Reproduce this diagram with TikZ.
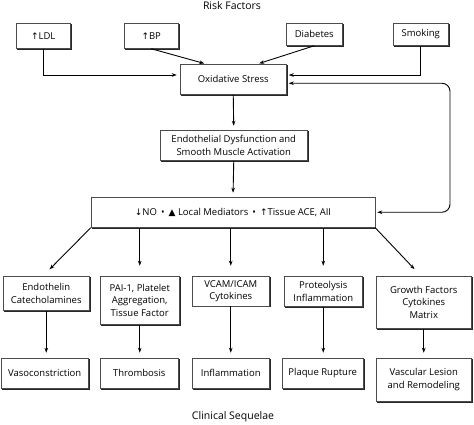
\documentclass[tikz,border=0pt]{standalone}
\usepackage{fontspec}
\setmainfont{Open Sans}
\newfontfamily\symfont{DejaVu Sans}
\usetikzlibrary{arrows.meta, shadows}
\newcommand{\incr}{{\symfont\small ↑}}
\newcommand{\decr}{{\symfont\small ↓}}
\newcommand{\trig}{{\symfont\small ▲}}
\tikzset{
	box/.style = {draw = black!70, line width = 0.5pt, fill = white, align = center, inner sep = 1pt,
			drop shadow = {shadow xshift = 1.4pt, shadow yshift = -1.4pt, fill = black!85, opacity = 1}},
	arr/.style = {line width = 0.9pt, -{Stealth[length = 5pt, width = 3.6pt]}},
	title/.style = {font = \fontsize{10.5}{13}\selectfont},
}

\begin{document}
\begin{tikzpicture}[x = 1pt, y = -1pt, font = \fontsize{9.5}{12.5}\selectfont]
		\useasboundingbox (0,0) rectangle (474,425);
		\node [title] (risk) at (232,6) {Risk Factors};
		\node [title] (clin) at (233,417) {Clinical Sequelae};
		%
		\node [box, minimum width = 54.5pt, minimum height = 25.5pt] (ldl) at (43.25,35.75) {\incr LDL};
		\node [box, minimum width = 54.5pt, minimum height = 25.5pt] (bp) at (151.25,35.75) {\incr BP};
		\node [box, minimum width = 56.5pt, minimum height = 22.5pt] (diab) at (314.25,34.25) {Diabetes};
		\node [box, minimum width = 55.5pt, minimum height = 22.5pt] (smok) at (420.75,34.25) {Smoking};
		%
		\node [box, minimum width = 106.5pt, minimum height = 30.5pt] (ox) at (233.25,79.25) {Oxidative Stress};
		\node [box, minimum width = 147.5pt, minimum height = 30.5pt] (endo) at (233.75,145.25) {Endothelial Dysfunction and\\Smooth Muscle Activation};
		\node [box, minimum width = 284pt, minimum height = 30.5pt] (mid) at (233,212.25) {\decr NO \,•\, \trig\ Local Mediators \,•\, \incr Tissue ACE, AII};
		%
		\node [box, minimum width = 86.5pt, minimum height = 34.5pt] (endt) at (46.25,293.25) {Endothelin\\Catecholamines};
		\node [box, minimum width = 79.5pt, minimum height = 48.5pt] (pai) at (139.75,300.25) {PAI-1, Platelet\\Aggregation,\\Tissue Factor};
		\node [box, minimum width = 77.5pt, minimum height = 30pt] (vcam) at (230.75,291) {VCAM/ICAM\\Cytokines};
		\node [box, minimum width = 78.5pt, minimum height = 30.5pt] (prot) at (323.25,291.25) {Proteolysis\\Inflammation};
		\node [box, minimum width = 95.5pt, minimum height = 52.5pt] (grow) at (423.75,302.25) {Growth Factors\\Cytokines\\Matrix};
		%
		\node [box, minimum width = 87.5pt, minimum height = 30.5pt] (vaso) at (44.75,373.25) {Vasoconstriction};
		\node [box, minimum width = 78.5pt, minimum height = 30.5pt] (thro) at (139.25,373.25) {Thrombosis};
		\node [box, minimum width = 77.5pt, minimum height = 30.5pt] (infl) at (230.75,373.25) {Inflammation};
		\node [box, minimum width = 81.5pt, minimum height = 30.5pt] (plaq) at (322.75,373.25) {Plaque Rupture};
		\node [box, minimum width = 95.5pt, minimum height = 43.5pt] (vasc) at (423.75,379.75) {Vascular Lesion\\and Remodeling};
		%
		\coordinate (fb) at (450,150);
		\draw [arr, shorten > = 3pt] (ldl.south) |- ([yshift = 4.25pt]ox.west);
		\draw [arr, shorten > = 1pt] (bp.south) -- ([xshift = -28pt]ox.north);
		\draw [arr, shorten > = 1pt] (diab.south) -- ([xshift = 25pt]ox.north);
		\draw [arr, shorten > = 2pt] (smok.south) |- ([yshift = 4.25pt]ox.east);
		\draw [line width = 0.9pt, {Stealth[length = 5pt, width = 3.6pt]}-{Stealth[length = 5pt, width = 3.6pt]}, rounded corners = 8pt, shorten < = 2pt, shorten > = 2pt] ([yshift = -4pt]ox.east) -| (fb) |- (mid.east);
		%
		\draw [arr, shorten > = 4pt] (ox.south) -- (endo.north);
		\draw [arr, shorten > = 4pt] (endo.south) -- (mid.north);
		%
		\draw [arr, shorten > = 9pt] (mid.south west) -- ([xshift = -3pt]endt.north);
		\draw [arr, shorten > = 10pt] (pai.north |- mid.south) -- (pai.north);
		\draw [arr, shorten > = 10pt] (vcam.north |- mid.south) -- (vcam.north);
		\draw [arr, shorten > = 10pt] (prot.north |- mid.south) -- (prot.north);
		\draw [arr, shorten > = 9pt] (mid.south east) -- ([xshift = -3pt]grow.north);
		%
		\draw [arr, shorten > = 5pt] (endt.south) -- (endt.south |- vaso.north);
		\draw [arr, shorten > = 5pt] (pai.south) -- (pai.south |- thro.north);
		\draw [arr, shorten > = 5pt] (vcam.south) -- (vcam.south |- infl.north);
		\draw [arr, shorten > = 5pt] (prot.south) -- (prot.south |- plaq.north);
		\draw [arr, shorten > = 5pt] (grow.south) -- (grow.south |- vasc.north);
	\end{tikzpicture}
\end{document}
